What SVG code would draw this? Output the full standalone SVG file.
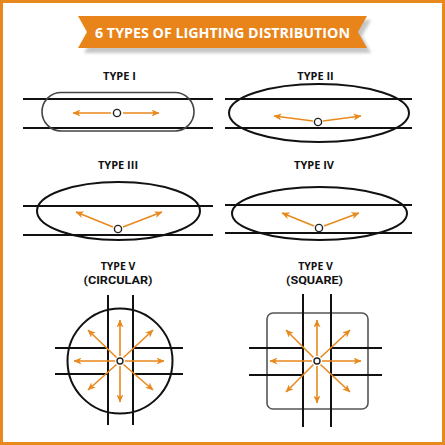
<svg xmlns="http://www.w3.org/2000/svg" width="445" height="445" viewBox="0 0 445 445">
<style>
.road{stroke:#111;stroke-width:2;fill:none}
.shape{stroke:#111;stroke-width:2;fill:none}
.soft{stroke:#444;stroke-width:1.6;fill:none}
.arr{stroke:#E8891E;stroke-width:1.6;fill:none;marker-end:url(#ah)}
.lamp{fill:#fff;stroke:#222;stroke-width:1.4}
.lbl{font-family:"Open Sans","DejaVu Sans",sans-serif;font-weight:bold;font-size:11px;fill:#111;text-anchor:middle}
.lblv{font-family:"Open Sans","DejaVu Sans",sans-serif;font-weight:bold;font-size:10.5px;fill:#111;text-anchor:middle}
.lbl2{font-family:Roboto,"Open Sans",sans-serif;font-weight:bold;font-size:10.5px;fill:#111;text-anchor:middle}
</style>
<defs>
<marker id="ah" viewBox="0 0 8 7" refX="7.5" refY="3.5" markerWidth="8" markerHeight="7" markerUnits="userSpaceOnUse" orient="auto">
<path d="M0,0 L8,3.5 L0,7 L2.2,3.5 Z" fill="#E8891E"/>
</marker>
<filter id="blur" x="-10%" y="-50%" width="120%" height="200%"><feGaussianBlur stdDeviation="1.8"/></filter>
</defs>
<rect x="0" y="0" width="445" height="445" fill="#fff"/>
<rect x="1.5" y="1.5" width="442" height="442" fill="none" stroke="#E8891E" stroke-width="3"/>

<g id="banner">
<polygon points="84,20 371,20 362,36 371,53 84,53 94,36" fill="#999" opacity="0.55" filter="url(#blur)"/>
<polygon points="78,16 367,16 358,32 367,48 78,48 87,32" fill="#E8841A"/>
<text x="222.5" y="37.5" font-family="'Open Sans','DejaVu Sans',sans-serif" font-weight="bold" font-size="14" fill="#fff" text-anchor="middle" textLength="255" lengthAdjust="spacingAndGlyphs">6 TYPES OF LIGHTING DISTRIBUTION</text>
</g>

<g id="type1">
<text class="lbl" x="119.5" y="80">TYPE I</text>
<line class="road" x1="23" y1="99" x2="213" y2="99"/>
<line class="road" x1="23" y1="128" x2="213" y2="128"/>
<rect class="soft" x="42" y="92.5" width="152" height="38.5" rx="19.25"/>
<line class="arr" x1="111" y1="113" x2="73" y2="113"/>
<line class="arr" x1="123" y1="113" x2="159" y2="113"/>
<circle class="lamp" cx="117" cy="113" r="3.6"/>
</g>

<g id="type2">
<text class="lbl" x="315.5" y="80">TYPE II</text>
<line class="road" x1="225" y1="99" x2="412" y2="99"/>
<line class="road" x1="225" y1="128" x2="412" y2="128"/>
<ellipse class="shape" cx="319" cy="113" rx="90" ry="29"/>
<line class="arr" x1="313" y1="121" x2="274" y2="116"/>
<line class="arr" x1="323" y1="121" x2="361" y2="116"/>
<circle class="lamp" cx="318" cy="122" r="3.6"/>
</g>

<g id="type3">
<text class="lbl" x="118" y="169">TYPE III</text>
<line class="road" x1="23" y1="206" x2="213" y2="206"/>
<line class="road" x1="23" y1="235" x2="213" y2="235"/>
<ellipse class="shape" cx="118.5" cy="211" rx="81.5" ry="29"/>
<line class="arr" x1="113" y1="227" x2="76" y2="212"/>
<line class="arr" x1="123" y1="227" x2="162" y2="212"/>
<circle class="lamp" cx="118" cy="229" r="3.6"/>
</g>

<g id="type4">
<text class="lbl" x="314" y="169">TYPE IV</text>
<line class="road" x1="225" y1="205" x2="412" y2="205"/>
<line class="road" x1="225" y1="233" x2="412" y2="233"/>
<ellipse class="shape" cx="319.5" cy="213.5" rx="87.5" ry="26.5"/>
<line class="arr" x1="314" y1="226" x2="282" y2="213"/>
<line class="arr" x1="324" y1="226" x2="359" y2="213"/>
<circle class="lamp" cx="319" cy="228" r="3.6"/>
</g>

<g id="type5circular">
<text class="lblv" x="118" y="269.5">TYPE V</text>
<text class="lbl2" x="118" y="284" textLength="69" lengthAdjust="spacingAndGlyphs">(CIRCULAR)</text>
<line class="road" x1="108" y1="295" x2="108" y2="425"/>
<line class="road" x1="133" y1="295" x2="133" y2="425"/>
<line class="road" x1="55" y1="348" x2="108" y2="348"/>
<line class="road" x1="133" y1="348" x2="183" y2="348"/>
<line class="road" x1="55" y1="374" x2="108" y2="374"/>
<line class="road" x1="133" y1="374" x2="183" y2="374"/>
<circle class="shape" cx="120" cy="361" r="52.5"/>
<line class="arr" x1="120" y1="356" x2="120" y2="320"/>
<line class="arr" x1="120" y1="366" x2="120" y2="402"/>
<line class="arr" x1="115" y1="361" x2="74" y2="361"/>
<line class="arr" x1="125" y1="361" x2="164" y2="361"/>
<line class="arr" x1="116.5" y1="357.5" x2="88" y2="330"/>
<line class="arr" x1="123.5" y1="357.5" x2="153" y2="330"/>
<line class="arr" x1="116.5" y1="364.5" x2="88" y2="390"/>
<line class="arr" x1="123.5" y1="364.5" x2="153" y2="390"/>
<circle class="lamp" cx="120" cy="361" r="3" stroke="#2b3a4a"/>
</g>

<g id="type5square">
<text class="lblv" x="315.5" y="269.5">TYPE V</text>
<text class="lbl2" x="314.5" y="284" textLength="57" lengthAdjust="spacingAndGlyphs">(SQUARE)</text>
<rect x="267" y="313" width="101" height="96" rx="6" fill="none" stroke="#555" stroke-width="1.6"/>
<line class="road" x1="303" y1="294" x2="303" y2="427"/>
<line class="road" x1="331" y1="294" x2="331" y2="427"/>
<line class="road" x1="249" y1="348" x2="303" y2="348"/>
<line class="road" x1="331" y1="348" x2="382" y2="348"/>
<line class="road" x1="249" y1="375" x2="303" y2="375"/>
<line class="road" x1="331" y1="375" x2="382" y2="375"/>
<line class="arr" x1="317" y1="356" x2="317" y2="320"/>
<line class="arr" x1="317" y1="366" x2="317" y2="403"/>
<line class="arr" x1="312" y1="361" x2="270" y2="361"/>
<line class="arr" x1="322" y1="361" x2="361" y2="361"/>
<line class="arr" x1="313.5" y1="357.5" x2="286" y2="330"/>
<line class="arr" x1="320.5" y1="357.5" x2="350" y2="330"/>
<line class="arr" x1="313.5" y1="364.5" x2="286" y2="392"/>
<line class="arr" x1="320.5" y1="364.5" x2="350" y2="392"/>
<circle class="lamp" cx="317" cy="361" r="3" stroke="#2b3a4a"/>
</g>
</svg>
